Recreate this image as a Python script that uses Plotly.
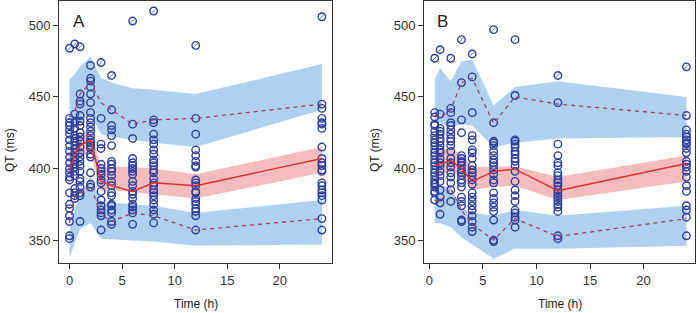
import plotly.graph_objects as go

# ---------------- Panel A data ----------------
A_obs = {
    0:   [484, 435, 432, 430, 427, 424, 420, 416, 412, 408, 404, 400, 397, 394, 392, 383, 375, 372, 367, 363, 353, 351],
    0.5: [487, 438, 432, 428, 423, 421, 419, 416, 414, 411, 408, 405, 403, 401, 398, 395, 386, 383, 381, 379],
    1:   [485, 452, 447, 445, 437, 433, 430, 425, 422, 419, 415, 411, 408, 405, 402, 398, 393, 391, 387, 383, 381, 363],
    2:   [472, 463, 461, 457, 452, 446, 439, 435, 432, 429, 426, 423, 420, 418, 416, 414, 410, 408, 397, 389, 387],
    3:   [474, 435, 417, 414, 403, 400, 398, 396, 392, 390, 384, 378, 374, 371, 369, 367, 357],
    4:   [465, 441, 430, 427, 423, 416, 405, 403, 400, 398, 395, 391, 388, 383, 381, 375, 374, 371, 369, 363, 361],
    6:   [503, 431, 421, 407, 404, 402, 400, 398, 396, 391, 388, 384, 382, 379, 375, 373, 371, 369, 361],
    8:   [510, 434, 432, 424, 420, 417, 413, 410, 406, 404, 402, 399, 397, 393, 390, 388, 385, 383, 381, 378, 375, 371, 368, 362],
    12:  [486, 435, 424, 413, 409, 405, 402, 401, 392, 390, 388, 384, 383, 379, 377, 375, 372, 370, 367, 357],
    24:  [506, 445, 442, 435, 432, 431, 428, 415, 407, 404, 402, 399, 398, 390, 388, 385, 383, 381, 378, 365, 357],
}
A_time = [0, 0.5, 1, 2, 3, 4, 6, 8, 12, 24]
A_median = [398, 410, 416, 420, 391, 388, 384, 390, 388, 407]
A_med_lo = [390, 403, 408, 411, 384, 385, 383, 382, 379, 397]
A_med_hi = [408, 418, 424, 427, 401, 401, 401, 400, 396, 415]
A_p95 = [436, 440, 452, 460, 446, 441, 431, 434, 435, 445]
A_p05 = [362, 380, 383, 388, 368, 363, 369, 367, 357, 365]
A_up_lo = [424, 428, 432, 438, 424, 422, 420, 418, 415, 441]
A_up_hi = [462, 466, 471, 478, 463, 460, 456, 455, 452, 473]
A_lo_lo = [338, 348, 358, 362, 351, 351, 350, 349, 346, 347]
A_lo_hi = [356, 372, 380, 395, 377, 376, 375, 374, 369, 378]

# ---------------- Panel B data ----------------
B_obs = {
    0.5: [477, 439, 436, 431, 430, 426, 423, 420, 418, 416, 413, 411, 409, 406, 404, 402, 399, 397, 395, 392, 390, 389, 387, 384, 383, 378],
    1:   [483, 438, 428, 426, 424, 421, 419, 416, 413, 411, 407, 404, 402, 398, 395, 391, 385, 380, 376, 368],
    2:   [477, 442, 439, 432, 430, 427, 424, 421, 419, 416, 412, 407, 404, 401, 397, 394, 390, 385, 377],
    3:   [490, 460, 434, 425, 409, 407, 405, 404, 402, 399, 397, 395, 392, 390, 387, 380, 377, 374, 364, 363],
    4:   [480, 464, 439, 423, 420, 413, 411, 407, 402, 399, 397, 395, 392, 389, 383, 380, 377, 374, 371, 367, 363, 359, 356],
    6:   [497, 432, 419, 418, 416, 412, 409, 406, 404, 402, 399, 396, 392, 390, 383, 379, 376, 373, 370, 364, 350, 349],
    8:   [490, 451, 420, 419, 417, 415, 412, 410, 407, 405, 402, 398, 391, 385, 381, 377, 371, 369, 366, 364, 359],
    12:  [465, 446, 417, 409, 404, 402, 397, 395, 392, 390, 388, 385, 383, 381, 379, 377, 375, 373, 370, 353, 351],
    24:  [471, 437, 427, 424, 422, 420, 418, 417, 414, 411, 405, 403, 401, 398, 394, 388, 384, 374, 371, 366, 353],
}
B_time = [0.5, 1, 2, 3, 4, 6, 8, 12, 24]
B_median = [402, 403, 405.5, 400, 391, 398, 399.5, 384.5, 403.5]
B_med_lo = [394, 396, 398, 395, 385, 387, 388, 378, 391]
B_med_hi = [415, 413, 414, 410, 401, 401, 401.5, 394, 409]
B_p95 = [437, 436, 441, 460, 463, 431.5, 450, 445, 437]
B_p05 = [378, 377, 386, 371, 361, 350, 365, 352.5, 365]
B_up_lo = [432, 432, 429, 431, 430, 415, 418, 421, 422]
B_up_hi = [462, 470, 461, 475, 476, 444, 457, 461, 450]
B_lo_lo = [362, 362, 359, 352, 347, 337, 344, 344, 346]
B_lo_hi = [386, 388, 387, 372, 369, 367, 371, 367, 374]

BLUE_BAND = "rgba(160,200,238,0.85)"
RED_BAND = "rgba(240,160,160,0.70)"
PT_COLOR = "#2e3f9e"
MED_COLOR = "#e0302e"
DASH_COLOR = "#a8405a"

fig = go.Figure()


def band(x, lo, hi, color, xa, ya):
    fig.add_trace(go.Scatter(x=list(x) + list(x)[::-1], y=list(hi) + list(lo)[::-1],
                             fill="toself", fillcolor=color, line=dict(width=0),
                             mode="lines", hoverinfo="skip", showlegend=False,
                             xaxis=xa, yaxis=ya))


def panel(obs, t, med, mlo, mhi, p95, p05, ulo, uhi, llo, lhi, xa, ya):
    band(t, ulo, uhi, BLUE_BAND, xa, ya)
    band(t, llo, lhi, BLUE_BAND, xa, ya)
    band(t, mlo, mhi, RED_BAND, xa, ya)
    xs, ys, ox, oy = [], [], [], []
    top = dict(zip(t, uhi))
    for k, vals in obs.items():
        xs += [k] * len(vals)
        ys += vals
        for v in vals:
            if v > top[k]:
                ox.append(k)
                oy.append(v)
    fig.add_trace(go.Scatter(x=ox, y=oy, mode="markers", showlegend=False, hoverinfo="skip",
                             marker=dict(symbol="line-ne", size=5.5,
                                         line=dict(width=1.0, color="#6f7bbf")),
                             xaxis=xa, yaxis=ya))
    fig.add_trace(go.Scatter(x=xs, y=ys, mode="markers", showlegend=False,
                             marker=dict(symbol="circle-open", size=7.5, color=PT_COLOR,
                                         line=dict(width=1.4, color=PT_COLOR)),
                             xaxis=xa, yaxis=ya))
    for yy in (p95, p05):
        fig.add_trace(go.Scatter(x=t, y=yy, mode="lines", showlegend=False,
                                 line=dict(color=DASH_COLOR, width=1.3, dash="4px,4px"),
                                 xaxis=xa, yaxis=ya))
    fig.add_trace(go.Scatter(x=t, y=med, mode="lines", showlegend=False,
                             line=dict(color=MED_COLOR, width=1.4), xaxis=xa, yaxis=ya))


panel(A_obs, A_time, A_median, A_med_lo, A_med_hi, A_p95, A_p05, A_up_lo, A_up_hi, A_lo_lo, A_lo_hi, "x", "y")
panel(B_obs, B_time, B_median, B_med_lo, B_med_hi, B_p95, B_p05, B_up_lo, B_up_hi, B_lo_lo, B_lo_hi, "x2", "y2")

x_ticks = [0, 5, 10, 15, 20]
y_ticks = [350, 400, 450, 500]
FONT = "Liberation Sans, Arial, sans-serif"

axis_common = dict(showgrid=False, zeroline=False, showline=True, mirror=True,
                   linecolor="#333333", linewidth=1, ticks="outside", ticklen=5,
                   tickcolor="#333333", tickfont=dict(size=13, color="#333333", family=FONT))

fig.update_layout(
    width=700, height=313,
    margin=dict(l=0, r=0, t=1, b=50),
    paper_bgcolor="white", plot_bgcolor="white",
    xaxis=dict(domain=[59 / 700, 332 / 700], range=[-1.0, 24.96], tickvals=x_ticks, anchor="y", **axis_common),
    yaxis=dict(domain=[0, 1], range=[334, 517], tickvals=y_ticks, anchor="x", **axis_common),
    xaxis2=dict(domain=[424 / 700, 695 / 700], range=[-0.5, 24.8], tickvals=x_ticks, anchor="y2", **axis_common),
    yaxis2=dict(domain=[0, 1], range=[334, 517], tickvals=y_ticks, anchor="x2", **axis_common),
    font=dict(family=FONT, color="#333333"),
)

ann = []
for xc, yc, txt, rot, sz in [
    ((59 + 332) / 2 / 700, 304, "Time (h)", 0, 12),
    ((424 + 695) / 2 / 700, 304, "Time (h)", 0, 12),
    (10 / 700, 150, "QT (ms)", -90, 12),
    (375 / 700, 150, "QT (ms)", -90, 12),
    (79 / 700, 21, "A", 0, 17),
    (442 / 700, 21, "B", 0, 17),
]:
    ann.append(dict(x=xc, y=1 - (yc - 1) / 262, xref="paper", yref="paper", text=txt,
                    showarrow=False, textangle=rot, xanchor="center", yanchor="middle",
                    font=dict(size=sz, color="#222222", family=FONT)))
fig.update_layout(annotations=ann)

fig.write_html("out.html", config={"displayModeBar": False},
               post_script="document.body.style.margin='0';document.body.style.overflow='hidden';")
